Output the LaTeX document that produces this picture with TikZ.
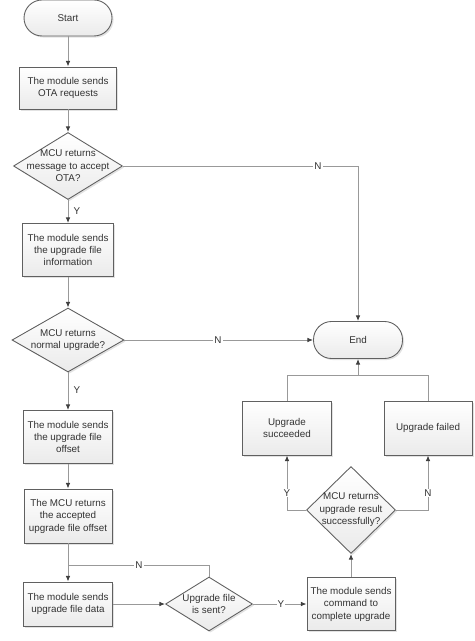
\documentclass[tikz,border=0pt]{standalone}
\usepackage{fontspec}
\setmainfont{Liberation Sans}
\usetikzlibrary{shapes.geometric}
\usetikzlibrary{shadows}
\usetikzlibrary{arrows.meta}

\begin{document}
\begin{tikzpicture}[x=0.02cm, y=-0.02cm,
    font=\fontsize{5.6}{7.1}\selectfont,
    shp/.style={draw=gray!75!black, line width=0.5pt, top color=white, bottom color=gray!16,
        drop shadow={shadow xshift=0.9pt, shadow yshift=-0.9pt, fill=gray!45},
        text=black!80, align=center, inner sep=0pt},
    box/.style={shp, rectangle, minimum width=1.78cm, minimum height=1.06cm},
    term/.style={shp, rectangle, rounded corners=0.36cm, minimum width=1.78cm, minimum height=0.74cm},
    dec/.style={shp, diamond},
    every label/.style={align=center, text=black!80, inner sep=0pt},
    line/.style={draw=gray!80, line width=0.55pt},
    arr/.style={line, -{Latex[length=3.2pt, width=2.6pt, color=black!75]}},
    yn/.style={fill=white, inner sep=0.6pt, text=black!80}]

        % Fix the page size
        \useasboundingbox (0,0) rectangle (474,641);

        % Left column
        \node[term, minimum width=1.76cm, minimum height=0.72cm] (start) at (68,18) {Start};
        \node[box, minimum width=1.94cm, minimum height=0.84cm] (ota) at (68,88) {The module sends\\OTA requests};
        \node[dec, minimum width=2.18cm, minimum height=1.34cm,
            label=center:{MCU returns\\message to accept\\OTA?}] (accept) at (68,166) {};
        \node[box, minimum width=1.82cm] (info) at (68,250) {The module sends\\the upgrade file\\information};
        \node[dec, minimum width=2.24cm, minimum height=1.28cm,
            label=center:{MCU returns\\normal upgrade?}] (normal) at (68,340) {};
        \node[box] (offset) at (68,437) {The module sends\\the upgrade file\\offset};
        \node[box, minimum width=1.76cm, minimum height=1.08cm] (accepted) at (68,516) {The MCU returns\\the accepted\\upgrade file offset};
        \node[box, minimum height=0.88cm] (data) at (68,604) {The module sends\\upgrade file data};

        % Bottom row and right column
        \node[dec, minimum width=1.74cm, minimum height=1.08cm,
            label=center:{Upgrade file\\is sent?}] (sent) at (209,604) {};
        \node[box, minimum width=1.76cm] (complete) at (351,604) {The module sends\\command to\\complete upgrade};
        \node[dec, minimum width=1.78cm, minimum height=1.74cm,
            label=center:{MCU returns\\upgrade result\\successfully?}] (result) at (351,510) {};
        \node[box, minimum height=1.08cm] (succ) at (287,428) {Upgrade\\succeeded};
        \node[box, minimum width=1.76cm, minimum height=1.08cm] (fail) at (428,428) {Upgrade failed};
        \node[term] (end) at (358,340) {End};

        \coordinate (loop) at (68,565);
        \coordinate (join) at (358,375);

        % Connectors
        \draw[arr] (start) -- (ota);
        \draw[arr] (ota) -- (accept);
        \draw[arr] (accept) -- (info);
        \draw[arr] (accept.east) -| (end.north);
        \draw[arr] (info) -- (normal);
        \draw[arr] (normal.east) -- (end.west);
        \draw[arr] (normal) -- (offset);
        \draw[arr] (offset) -- (accepted);
        \draw[arr] (accepted) -- (data);
        \draw[arr] (data) -- (sent);
        \draw[line] (sent.north) |- (loop);
        \draw[arr] (sent) -- (complete);
        \draw[arr] (complete) -- (result);
        \draw[arr] (result.west) -| (succ.south);
        \draw[arr] (result.east) -| (fail.south);
        \draw[line] (succ.north) |- (join);
        \draw[line] (fail.north) |- (join);
        \draw[arr] (join) -- (end.south);

        % Branch labels
        \node[yn] at (77,211) {Y};
        \node[yn] at (318,166) {N};
        \node[yn] at (218,340) {N};
        \node[yn] at (77,390) {Y};
        \node[yn] at (139,565) {N};
        \node[yn] at (281,604) {Y};
        \node[yn] at (287,493) {Y};
        \node[yn] at (428,493) {N};

    \end{tikzpicture}
\end{document}
